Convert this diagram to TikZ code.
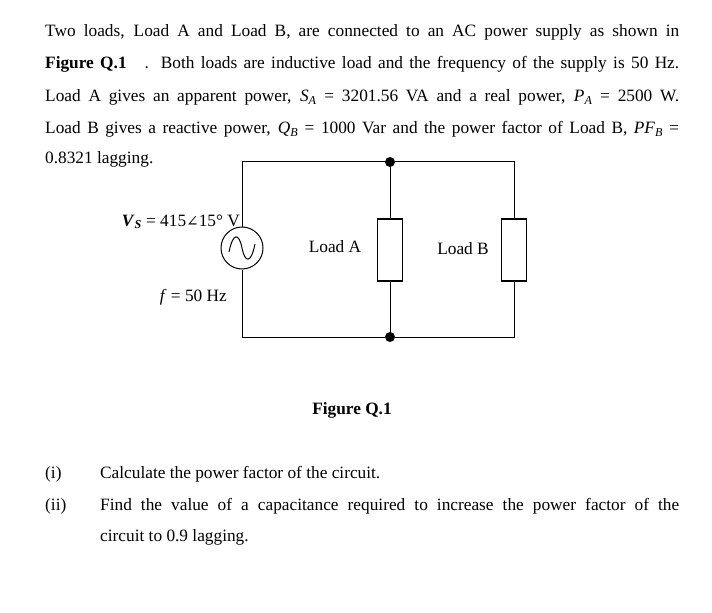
\documentclass[tikz,border=0pt]{standalone}
\usepackage{fontspec}
\setmainfont{Liberation Serif}
\newfontfamily\symfont{DejaVu Serif}
\begin{document}
\begin{tikzpicture}[x=1bp,y=-1bp,
  txt/.style={inner sep=0pt,anchor=base west,font=\fontsize{17.3bp}{20bp}\selectfont},
  wire/.style={line width=1bp},
  load/.style={draw,line width=1.8bp,minimum width=25bp,minimum height=62bp,inner sep=0pt,fill=white},
  dot/.style={circle,fill,inner sep=0pt,minimum size=10bp}]
\useasboundingbox (0,0) rectangle (712,613);
\def\W{634bp}
\node[txt] (l1) at (45,37) {\makebox[\W][s]{Two loads, Load A and Load B, are connected to an AC power supply as shown in}};
\node[txt] (l2) at (45,69) {\makebox[\W][s]{\textbf{Figure Q.1}\hspace{18bp}. Both loads are inductive load and the frequency of the supply is 50 Hz.}};
\node[txt] (l3) at (45,102) {\makebox[\W][s]{Load A gives an apparent power, \textit{S\textsubscript{A}} = 3201.56 VA and a real power, \textit{P\textsubscript{A}} = 2500 W.}};
\node[txt] (l4) at (45,134) {\makebox[\W][s]{Load B gives a reactive power, \textit{Q\textsubscript{B}} = 1000 Var and the power factor of Load B, \textit{PF\textsubscript{B}} =}};
\node[txt] (l5) at (45,164) {0.8321 lagging.};
% circuit
\coordinate (tl) at (242,162);
\coordinate (bl) at (242,337);
\coordinate (tr) at (514,162);
\coordinate (br) at (514,337);
\node[dot] (tm) at (390,162) {};
\node[dot] (bm) at (390,337) {};
\node[draw,circle,line width=1bp,minimum size=42bp,inner sep=0pt] (src) at (242,248) {};
\node[load] (la) at (390,250) {};
\node[load] (lb) at (514,250) {};
\draw[wire] (src.north) -- (tl) -- (tm) -- (tr) -- (lb.north);
\draw[wire] (lb.south) -- (br) -- (bm) -- (bl) -- (src.south);
\draw[wire] (tm) -- (la.north);
\draw[wire] (la.south) -- (bm);
\draw[line width=1bp] (229,252) .. controls (233,232) and (239,233) .. (242,248) .. controls (245,263) and (251,264) .. (255,244);
\node[txt,anchor=base east] (vs) at (240,226) {\textbf{\textit{V}\textsubscript{\textit{S}}} = 415{\symfont\fontsize{15bp}{18bp}\selectfont ∠}15° V};
\node[txt,anchor=base east] (fr) at (227,301) {\textit{f} = 50 Hz};
\node[txt,anchor=base] (lat) at (335,252) {Load A};
\node[txt,anchor=base] (lbt) at (463,254) {Load B};
\node[txt,anchor=base,font=\fontsize{17.3bp}{20bp}\selectfont\bfseries] (fig) at (352,414) {Figure Q.1};
\node[txt] (i1) at (45,478) {(i)};
\node[txt] (t1) at (100,478) {Calculate the power factor of the circuit.};
\node[txt] (i2) at (45,510) {(ii)};
\node[txt] (t2) at (100,510) {\makebox[579bp][s]{Find the value of a capacitance required to increase the power factor of the}};
\node[txt] (t3) at (100,541) {circuit to 0.9 lagging.};
\end{tikzpicture}
\end{document}
